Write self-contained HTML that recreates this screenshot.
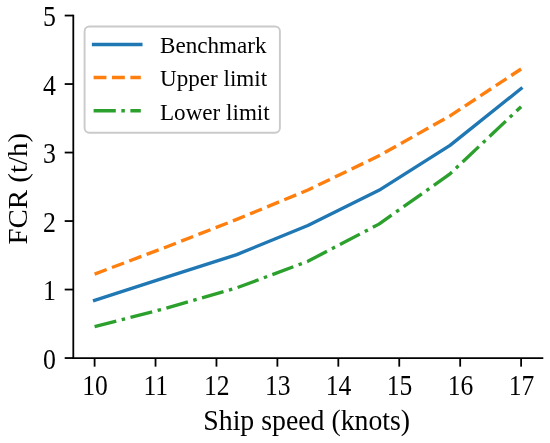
<!DOCTYPE html>
<html><head><meta charset="utf-8"><title>FCR vs ship speed</title>
<style>
html,body{margin:0;padding:0;background:#fff;}
svg{display:block;}
text{font-family:"Liberation Serif",serif;fill:#000;}
</style></head><body>
<svg width="550" height="443" viewBox="0 0 550 443">
<rect width="550" height="443" fill="#fff"/>
<polyline points="94.60,300.44 165.68,277.36 236.77,254.62 307.86,225.43 378.94,190.36 450.02,145.36 521.11,88.57" fill="none" stroke="#1f77b4" stroke-width="3.36" stroke-linecap="square" stroke-linejoin="round"/>
<polyline points="94.60,274.07 165.68,247.22 236.77,219.41 307.86,190.02 378.94,155.84 450.02,115.90 521.11,68.98" fill="none" stroke="#ff7f0e" stroke-width="3.36" stroke-dasharray="12.929 5.591" stroke-linejoin="round"/>
<polyline points="94.60,326.68 165.68,308.39 236.77,287.84 307.86,261.33 378.94,224.13 450.02,173.85 521.11,106.66" fill="none" stroke="#2ca02c" stroke-width="3.36" stroke-dasharray="22.386 5.596 3.498 5.596" stroke-linejoin="round"/>
<path d="M73.3 14.65V358.95" stroke="#000" stroke-width="1.8" fill="none"/>
<path d="M72.399 358.05H543.3" stroke="#000" stroke-width="1.8" fill="none"/>
<path d="M94.60 358.05v8.6" stroke="#000" stroke-width="1.8"/>
<text transform="translate(94.90,394.6) scale(0.92,1.035)" text-anchor="middle" font-size="27.78">10</text>
<path d="M155.53 358.05v8.6" stroke="#000" stroke-width="1.8"/>
<text transform="translate(155.83,394.6) scale(0.92,1.035)" text-anchor="middle" font-size="27.78">11</text>
<path d="M216.46 358.05v8.6" stroke="#000" stroke-width="1.8"/>
<text transform="translate(216.76,394.6) scale(0.92,1.035)" text-anchor="middle" font-size="27.78">12</text>
<path d="M277.39 358.05v8.6" stroke="#000" stroke-width="1.8"/>
<text transform="translate(277.69,394.6) scale(0.92,1.035)" text-anchor="middle" font-size="27.78">13</text>
<path d="M338.32 358.05v8.6" stroke="#000" stroke-width="1.8"/>
<text transform="translate(338.62,394.6) scale(0.92,1.035)" text-anchor="middle" font-size="27.78">14</text>
<path d="M399.25 358.05v8.6" stroke="#000" stroke-width="1.8"/>
<text transform="translate(399.55,394.6) scale(0.92,1.035)" text-anchor="middle" font-size="27.78">15</text>
<path d="M460.18 358.05v8.6" stroke="#000" stroke-width="1.8"/>
<text transform="translate(460.48,394.6) scale(0.92,1.035)" text-anchor="middle" font-size="27.78">16</text>
<path d="M521.11 358.05v8.6" stroke="#000" stroke-width="1.8"/>
<text transform="translate(521.41,394.6) scale(0.92,1.035)" text-anchor="middle" font-size="27.78">17</text>
<path d="M73.3 358.05h-8.6" stroke="#000" stroke-width="1.8"/>
<text transform="translate(55.8,368.85) scale(0.93,1.035)" text-anchor="end" font-size="27.78">0</text>
<path d="M73.3 289.55h-8.6" stroke="#000" stroke-width="1.8"/>
<text transform="translate(55.8,300.35) scale(0.93,1.035)" text-anchor="end" font-size="27.78">1</text>
<path d="M73.3 221.05h-8.6" stroke="#000" stroke-width="1.8"/>
<text transform="translate(55.8,231.85) scale(0.93,1.035)" text-anchor="end" font-size="27.78">2</text>
<path d="M73.3 152.55h-8.6" stroke="#000" stroke-width="1.8"/>
<text transform="translate(55.8,163.35) scale(0.93,1.035)" text-anchor="end" font-size="27.78">3</text>
<path d="M73.3 84.05h-8.6" stroke="#000" stroke-width="1.8"/>
<text transform="translate(55.8,94.85) scale(0.93,1.035)" text-anchor="end" font-size="27.78">4</text>
<path d="M73.3 15.55h-8.6" stroke="#000" stroke-width="1.8"/>
<text transform="translate(55.8,26.35) scale(0.93,1.035)" text-anchor="end" font-size="27.78">5</text>
<text transform="translate(306.7,429.7) scale(1,1.035)" text-anchor="middle" font-size="27.78">Ship speed (knots)</text>
<text transform="translate(27.4,188.7) rotate(-90) scale(1.04,1)" text-anchor="middle" font-size="27.78">FCR (t/h)</text>
<rect x="84.6" y="26.5" width="195.3" height="106.3" rx="4.7" ry="4.7" fill="#fff" fill-opacity="0.8" stroke="#cacaca" stroke-width="1.9"/>
<path d="M93.6 44.40H140.8" stroke="#1f77b4" stroke-width="3.47" fill="none" stroke-linecap="square"/>
<text transform="translate(160.0,53.00) scale(1,1.0)" font-size="23.1">Benchmark</text>
<path d="M93.6 77.55H140.8" stroke="#ff7f0e" stroke-width="3.47" fill="none" stroke-dasharray="12.84 5.55"/>
<text transform="translate(160.0,86.35) scale(1,1.0)" font-size="23.1">Upper limit</text>
<path d="M93.6 110.70H140.8" stroke="#2ca02c" stroke-width="3.47" fill="none" stroke-dasharray="22.21 5.55 3.47 5.55"/>
<text transform="translate(160.0,119.70) scale(1,1.0)" font-size="23.1">Lower limit</text>
</svg>
</body></html>
